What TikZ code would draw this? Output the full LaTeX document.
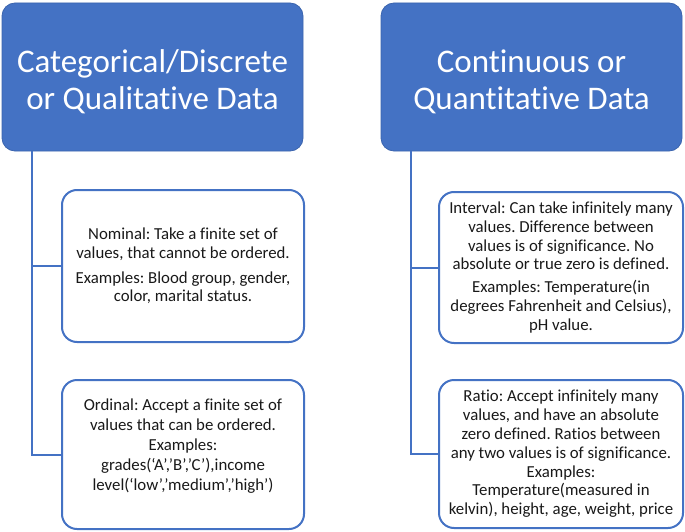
\documentclass[tikz,border=0pt]{standalone}
\usepackage{fontspec}
\setmainfont[Ligatures={NoCommon}]{Carlito}
\definecolor{hblue}{HTML}{4472C4}
\definecolor{hedge}{HTML}{3B64AE}
\begin{document}
\frenchspacing
\begin{tikzpicture}[x=1pt,y=-1pt,
  header/.style={draw=hedge,line width=0.8pt,fill=hblue,rounded corners=13pt,
    minimum width=301pt,minimum height=148pt,inner sep=0pt},
  htext/.style={text=white,align=center,font=\fontsize{33}{37}\selectfont,inner sep=0pt,yshift=-5pt},
  leaf/.style={draw=hblue,line width=2pt,fill=white,rounded corners=15pt,
    align=center,font=\fontsize{16.8}{18.8}\selectfont\frenchspacing,inner sep=0pt,text=black!90},
  link/.style={draw=hblue,line width=2pt}]
\useasboundingbox (0,0) rectangle (685,532);
\node[header] (lh) at (152.5,77) {};
\node[htext] (lht) at (lh.center) {Categorical/Discrete\\or Qualitative Data};
\node[header] (rh) at (531.5,77) {};
\node[htext] (rht) at (rh.center) {Continuous or\\Quantitative Data};
\node[leaf,minimum width=242pt,minimum height=152pt] (nom) at (183,266)
  {Nominal: Take a finite set of\\values, that cannot be ordered.\\[6pt]
   Examples: Blood group, gender,\\color, marital status.};
\node[leaf,minimum width=242pt,minimum height=149pt,font=\fontsize{16.8}{20}\selectfont\frenchspacing] (ord) at (183,454.5)
  {Ordinal: Accept a finite set of\\values that can be ordered.\\Examples:\\
   grades(‘A’,’B’,’C’),income\\level(‘low’,’medium’,’high’)\\[0pt]\mbox{}};
\node[leaf,minimum width=244pt,minimum height=151pt] (int) at (561,267.5)
  {Interval: Can take infinitely many\\values. Difference between\\values is of significance. No\\absolute or true zero is defined.\\[4pt]
   Examples: Temperature(in\\degrees Fahrenheit and Celsius),\\pH value.};
\node[leaf,minimum width=244pt,minimum height=148pt] (rat) at (561,454)
  {Ratio: Accept infinitely many\\values, and have an absolute\\zero defined. Ratios between\\any two values is of significance.\\Examples:\\Temperature(measured in\\kelvin), height, age, weight, price};
\coordinate (lx) at (32,151);
\coordinate (rx) at (411,151);
\draw[link] (lx) |- (ord.west);
\draw[link] (lx |- nom.west) -- (nom.west);
\draw[link] (rx) |- (rat.west);
\draw[link] (rx |- int.west) -- (int.west);
\end{tikzpicture}
\end{document}
